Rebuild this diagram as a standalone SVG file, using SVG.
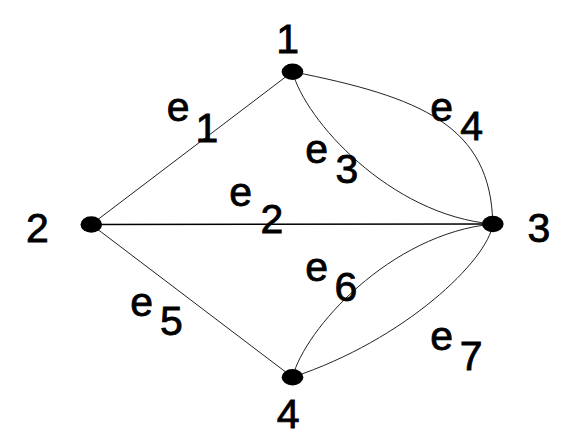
<svg xmlns="http://www.w3.org/2000/svg" width="575" height="437" viewBox="0 0 575 437">
<style>
.edge{fill:none;stroke:#222;stroke-width:1}
.bold{stroke:#000;stroke-width:1.4}
.node{fill:#000}
text{font-family:"Liberation Sans",Arial,sans-serif;font-size:41px;fill:#000;stroke:#000;stroke-width:0.8}
</style>
<rect width="575" height="437" fill="#fff"/>
<g id="connectors">
<path id="e1" class="edge" d="M91.3,224.5 L292.5,71.7"/>
<path id="e2" class="edge bold" d="M91.3,224.5 L492.8,224"/>
<path id="e3" class="edge" d="M292.5,71.7 C305,120 390,215 492.8,224"/>
<path id="e4" class="edge" d="M292.5,71.7 C420,97 491,125 492.8,224"/>
<path id="e5" class="edge" d="M91.3,224.5 L292.5,377.2"/>
<path id="e6" class="edge" d="M292.5,377.2 C305,329 390,234 492.8,224"/>
<path id="e7" class="edge" d="M292.5,377.2 C405,340 488,260 492.8,224"/>
</g>
<g id="edge-labels">
<text x="166.8" y="121.2">e</text><text x="195.5" y="141.7">1</text>
<text x="229.2" y="206.3">e</text><text x="260.5" y="233.3">2</text>
<text x="305.2" y="163">e</text><text x="335.6" y="183">3</text>
<text x="430.2" y="121.3">e</text><text x="460.2" y="140">4</text>
<text x="130.2" y="316.3">e</text><text x="160" y="335">5</text>
<text x="305.2" y="281.3">e</text><text x="334.5" y="301.3">6</text>
<text x="430.2" y="349.6">e</text><text x="459.8" y="370">7</text>
</g>
<g id="node1"><ellipse class="node" cx="292.5" cy="71.7" rx="10.8" ry="8.2"/><text x="276.2" y="53.3">1</text></g>
<g id="node2"><ellipse class="node" cx="91.3" cy="224.5" rx="10.8" ry="8.2"/><text x="26.1" y="241.7">2</text></g>
<g id="node3"><ellipse class="node" cx="492.8" cy="224" rx="10.8" ry="8.2"/><text x="527.6" y="241.5">3</text></g>
<g id="node4"><ellipse class="node" cx="292.5" cy="377.2" rx="10.8" ry="8.2"/><text x="276.8" y="428.3">4</text></g>
</svg>
